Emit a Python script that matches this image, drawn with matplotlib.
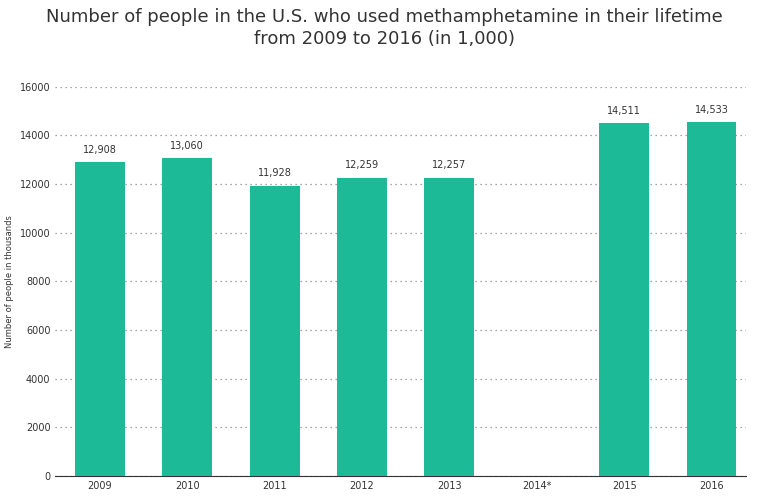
import matplotlib.pyplot as plt
import numpy as np

years = ['2009', '2010', '2011', '2012', '2013', '2014*', '2015', '2016']
users = [12908, 13060, 11928, 12259, 12257, np.nan, 14511, 14533]

fig = plt.figure(figsize=(7.68, 5.01), dpi=100)
ax = fig.add_axes([0.072, 0.05, 0.90, 0.777])

x = np.arange(len(years))
ax.bar(x, users, width=0.57, color='#1dba97', zorder=3)

for xi, v in zip(x, users):
    if not np.isnan(v):
        ax.text(xi, v + 300, f'{int(v):,}', ha='center', va='bottom', fontsize=7, color='#333333')

ax.set_xlim(-0.51, 7.4)
ax.set_ylim(0, 16000)
ax.set_yticks(range(0, 16001, 2000))
ax.set_xticks(x)
ax.set_xticklabels(years)
ax.tick_params(axis='both', labelsize=7, length=0, colors='#333333')
ax.grid(axis='y', linestyle=(0, (1, 3)), color='#888888', linewidth=0.9, zorder=0)
for s in ['top', 'right', 'left']:
    ax.spines[s].set_visible(False)
ax.spines['bottom'].set_color('#333333')
ax.set_ylabel('Number of people in thousands', fontsize=6, color='#333333')

fig.suptitle('Number of people in the U.S. who used methamphetamine in their lifetime\nfrom 2009 to 2016 (in 1,000)',
             fontsize=13, color='#333333', y=0.985, linespacing=1.35)

fig.savefig('out.png', dpi=100)
